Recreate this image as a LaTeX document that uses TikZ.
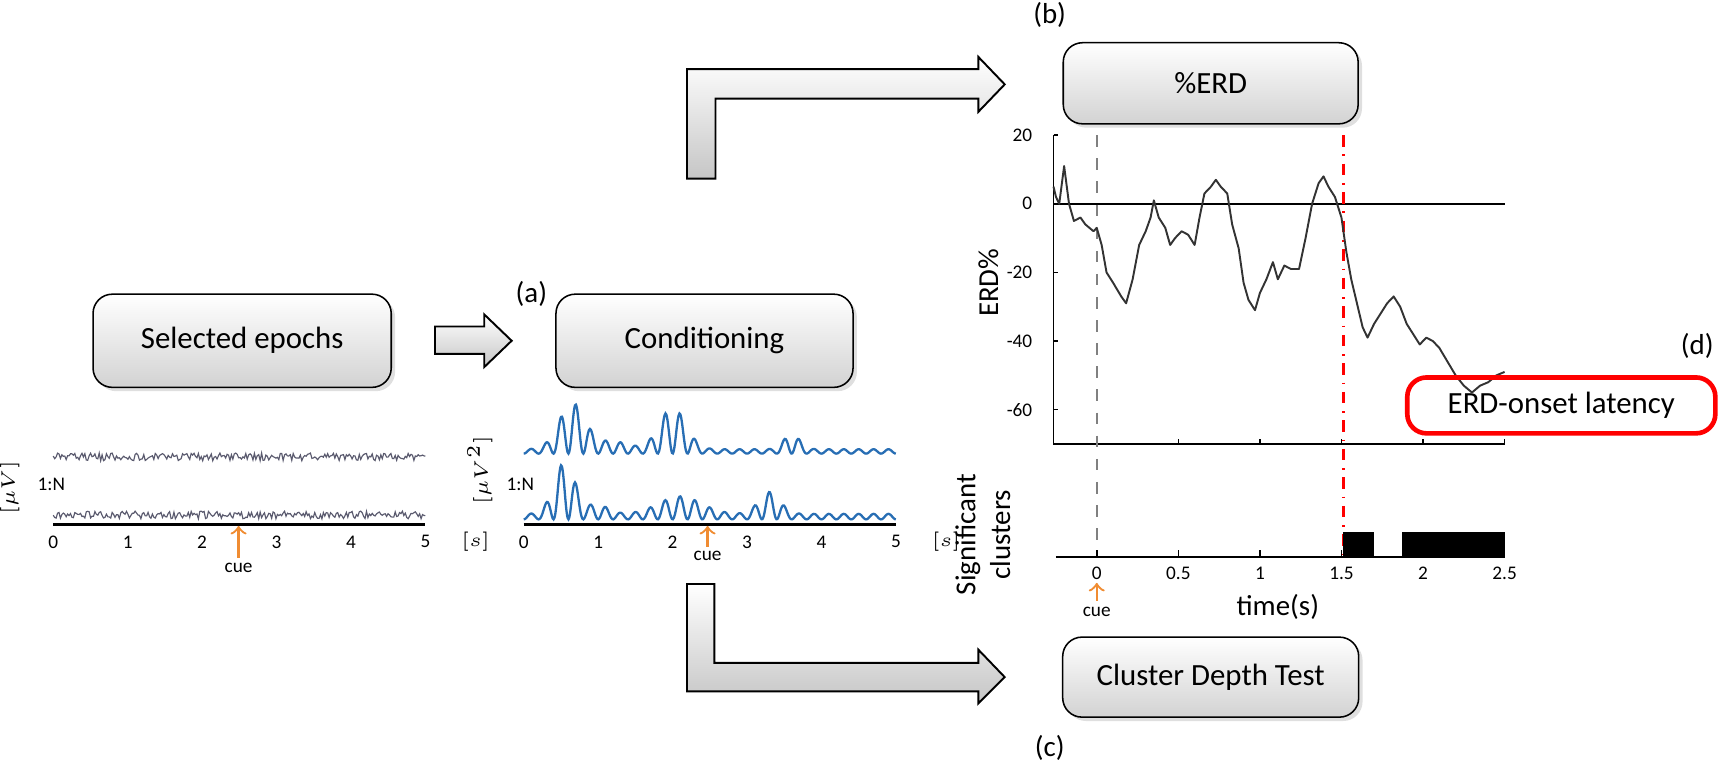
\documentclass[tikz,border=0pt]{standalone}
\usepackage{fontspec}
\setmainfont{Carlito}
\usetikzlibrary{positioning,shadows}
\definecolor{cueorange}{RGB}{240,140,50}
\definecolor{sigblue}{RGB}{40,110,180}
\definecolor{tracegray}{RGB}{90,90,110}
\tikzset{
  stage/.style={draw,rounded corners=5pt,top color=white,bottom color=gray!35,
    font=\fontsize{8}{10}\selectfont,
    drop shadow={opacity=0.25,shadow xshift=1pt,shadow yshift=-1pt}},
  fat/.style={draw,line width=0.5pt,top color=white,bottom color=gray!45},
  ticklab/.style={font=\fontsize{5}{6}\selectfont},
  tag/.style={font=\fontsize{7.5}{9}\selectfont},
}
\begin{document}
\begin{tikzpicture}[x=0.01cm,y=-0.01cm,line width=0.4pt]
\useasboundingbox (0,0) rectangle (1568,699);

% processing steps
\node[stage,minimum width=2.72cm,minimum height=0.85cm] (epochs) at (221,311) {Selected epochs};
\node[stage,minimum width=2.71cm,minimum height=0.85cm] (cond) at (643,311) {Conditioning};
\node[stage,minimum width=2.69cm,minimum height=0.74cm] (erd) at (1105,76) {\%ERD};
\node[stage,minimum width=2.7cm,minimum height=0.73cm] (cdt) at (1105,618) {Cluster Depth Test};
\node[tag] (la) at (485,268) {(a)};
\node[tag] (lb) at (958,14) {(b)};
\node[tag] (lc) at (958,683) {(c)};
\node[tag] (ld) at (1549,316) {(d)};

% block arrows
\draw[fat] (397,298) -- (442,298) -- (442,287) -- (467,311) -- (442,335) -- (442,323) -- (397,323) -- cycle;
\draw[fat] (627,163) -- (627,63) -- (893,63) -- (893,52) -- (917,77) -- (893,102) -- (893,90) -- (653,90) -- (653,163) -- cycle;
\draw[fat] (627,533) -- (627,631) -- (893,631) -- (893,642) -- (917,618) -- (893,593) -- (893,605) -- (652,605) -- (652,533) -- cycle;

% raw epochs
\begin{scope}[shift={(48.6,0)},x=0.679cm,y=0.01cm]
  \pgfmathsetseed{7}
  \draw[tracegray,line width=0.3pt] plot[domain=0:5,samples=260] (\x,{-417+3.5*rand});
  \draw[tracegray,line width=0.3pt] plot[domain=0:5,samples=260] (\x,{-470+3.5*rand});
  \draw[line width=0.7pt] (0,-479) -- (5,-479);
  \foreach \t in {0,...,5}
    \node[ticklab] (rt\t) at (\t,-494.5) {\t};
  \node[ticklab,right=1pt of rt5] (rs) {$[s]$};
  \draw[->,cueorange,line width=0.6pt] (2.49,-509) -- (2.49,-480);
  \node[ticklab] (rcue) at (2.49,-518) {cue};
\end{scope}
\node[ticklab,rotate=90] (ruv) at (9,445) {$[\mu V]$};
\node[ticklab,anchor=west] (rn) at (22,442) {1:N};

% conditioned power
\begin{scope}[shift={(478,0)},x=0.679cm,y=0.01cm]
  \draw[sigblue,line width=0.6pt] plot[domain=0:5,samples=400,smooth]
    (\x,{-414+(42*exp(-((\x-0.65)/0.25)^2)+38*exp(-((\x-2.0)/0.25)^2)+14*exp(-((\x-3.6)/0.15)^2)+7*exp(-((\x-1.2)/0.3)^2)+4)*sin(\x*900)^2});
  \draw[sigblue,line width=0.6pt] plot[domain=0:5,samples=400,smooth]
    (\x,{-474+(47*exp(-((\x-0.55)/0.2)^2)+16*exp(-((\x-2.1)/0.4)^2)+20*exp(-((\x-3.3)/0.2)^2)+8*exp(-((\x-1.0)/0.2)^2)+5)*sin(\x*900)^2});
  \draw[line width=0.7pt] (0,-479) -- (5,-479);
  \foreach \t in {0,...,5}
    \node[ticklab] (ct\t) at (\t,-494.5) {\t};
  \node[ticklab,right=1pt of ct5] (cs) {$[s]$};
  \draw[->,cueorange,line width=0.6pt] (2.47,-499) -- (2.47,-480);
  \node[ticklab] (ccue) at (2.47,-507) {cue};
\end{scope}
\node[ticklab,rotate=90] (cuv) at (438,429) {$[\mu V^2]$};
\node[ticklab,anchor=west] (cn) at (450,442) {1:N};

% ERD curve and clusters
\node[tag,rotate=90] (yl) at (902,258) {ERD\%};
\node[tag,rotate=90,align=center] (sl) at (897,488) {Significant\\clusters};
\begin{scope}[shift={(1001,186)},x=1.488cm,y=0.0313cm]
  \draw (-0.265,20) -- (-0.265,-70) -- (2.5,-70);
  \draw (-0.265,0) -- (2.5,0);
  \foreach \v in {20,0,-20,-40,-60}
    \draw (-0.265,\v) -- ++(0.03,0) node[ticklab,left=2pt] (yt\v) at (-0.265,\v) {\v};
  \foreach \t in {0,0.5,1,1.5,2,2.5}
    \draw (\t,-70) -- (\t,-68.5);
  \draw[dashed,gray,line width=0.6pt] (0,20) -- (0,-102.9);
  \draw[red,dash dot,line width=0.8pt] (1.51,20) -- (1.51,-102.9);
  \draw[gray!40!black,line join=round,line width=0.5pt] plot coordinates {
    (-0.265,5) (-0.25,2) (-0.23,0) (-0.2,11) (-0.17,0) (-0.14,-5) (-0.1,-4) (-0.07,-6)
    (-0.02,-8) (0,-7) (0.03,-12) (0.06,-20) (0.1,-23) (0.15,-27) (0.18,-29) (0.22,-22)
    (0.26,-12) (0.3,-8) (0.33,-4) (0.35,1) (0.38,-4) (0.42,-7) (0.45,-12) (0.48,-10)
    (0.52,-8) (0.56,-9) (0.6,-12) (0.63,-4) (0.66,3) (0.7,5) (0.73,7) (0.76,5)
    (0.8,3) (0.83,-6) (0.87,-13) (0.9,-23) (0.93,-28) (0.97,-31) (1.0,-26) (1.04,-22)
    (1.08,-17) (1.11,-22) (1.15,-18) (1.19,-19) (1.24,-19) (1.28,-10) (1.32,0) (1.36,6)
    (1.39,8) (1.42,5) (1.46,2) (1.5,-4) (1.53,-14) (1.56,-22) (1.6,-30) (1.63,-36)
    (1.66,-39) (1.7,-35) (1.74,-32) (1.78,-29) (1.82,-27) (1.86,-30) (1.9,-35) (1.94,-38)
    (1.98,-41) (2.02,-39) (2.06,-40) (2.1,-42) (2.15,-46) (2.2,-50) (2.25,-53) (2.3,-55)
    (2.35,-53) (2.4,-52) (2.45,-50) (2.5,-49)};
  \draw (-0.25,-102.9) -- (2.5,-102.9);
  \foreach \t in {0,0.5,1,1.5,2,2.5}
    \draw (\t,-102.9) -- (\t,-101) node[ticklab] (xt\t) at (\t,-107.6) {\t};
  \fill (1.51,-102.9) rectangle (1.70,-95.8);
  \fill (1.87,-102.9) rectangle (2.5,-95.8);
  \draw[->,cueorange,line width=0.6pt] (0,-115.7) -- (0,-110.5);
  \node[ticklab] (pcue) at (0,-119) {cue};
  \node[tag] (xl) at (1.11,-117.5) {time(s)};
\end{scope}
\node[draw=red,line width=1.2pt,rounded corners=5pt,minimum width=2.81cm,
  minimum height=0.51cm,font=\fontsize{8}{10}\selectfont] (onset) at (1425,370) {ERD-onset latency};
\end{tikzpicture}
\end{document}
